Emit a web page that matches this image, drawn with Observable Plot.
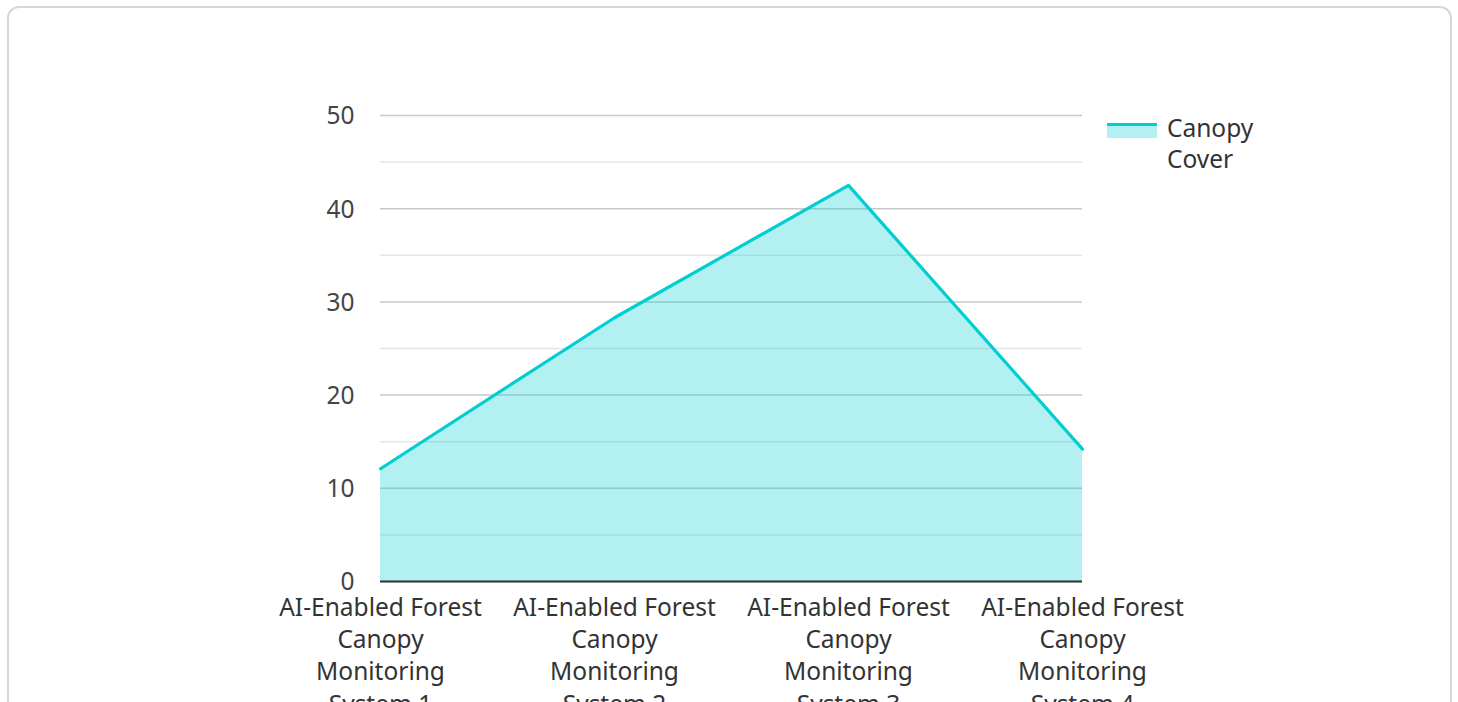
<!DOCTYPE html>
<html>
<head>
<meta charset="utf-8">
<script src="https://cdn.jsdelivr.net/npm/d3@7"></script>
<script src="https://cdn.jsdelivr.net/npm/@observablehq/plot@0.6"></script>
<style>
  html, body { margin: 0; padding: 0; background: #fff; overflow: hidden; }
  body { width: 1458px; height: 702px; position: relative; font-family: "Noto Sans", sans-serif; }
  #card { position: absolute; left: 7px; top: 6px; width: 1445px; height: 760px; border: 2px solid #d6d6d6; border-radius: 12px; box-sizing: border-box; }
  #chart { position: absolute; left: 0; top: 0; }
  #legend { position: absolute; left: 1107px; top: 112px; display: flex; align-items: flex-start; color: #333; font-size: 24.5px; line-height: 31px; }
  #legend .sw { width: 50px; height: 15px; margin-top: 11px; margin-right: 10px; background: rgba(0,206,209,0.3); border-top: 3px solid #00CED1; box-sizing: border-box; }
  #legend .lbl { width: 100px; }
</style>
</head>
<body>
<div id="card"></div>
<div id="chart"></div>
<div id="legend"><div class="sw"></div><div class="lbl" id="legendLabel"></div></div>
<script>
const categories = [
  "AI-Enabled Forest Canopy Monitoring System 1",
  "AI-Enabled Forest Canopy Monitoring System 2",
  "AI-Enabled Forest Canopy Monitoring System 3",
  "AI-Enabled Forest Canopy Monitoring System 4"
];
const tickLabels = [
  "AI-Enabled Forest\nCanopy\nMonitoring\nSystem 1",
  "AI-Enabled Forest\nCanopy\nMonitoring\nSystem 2",
  "AI-Enabled Forest\nCanopy\nMonitoring\nSystem 3",
  "AI-Enabled Forest\nCanopy\nMonitoring\nSystem 4"
];
const seriesName = "Canopy Cover";
const canopyCover = [12.1, 28.3, 42.5, 14.2];
const majorTicks = [0, 10, 20, 30, 40, 50];
const minorTicks = [5, 15, 25, 35, 45];

const data = categories.map((c, i) => ({category: c, value: canopyCover[i]}));
const labelOf = new Map(categories.map((c, i) => [c, tickLabels[i]]));

document.getElementById("legendLabel").textContent = seriesName;

const color = "#00CED1";
const chart = Plot.plot({
  width: 1458,
  height: 702,
  marginLeft: 380,
  marginRight: 376,
  marginTop: 115,
  marginBottom: 121,
  style: {fontFamily: "Noto Sans, sans-serif", fontSize: "24.5px", color: "#333", background: "transparent"},
  x: {type: "point", domain: categories, padding: 0, label: null},
  y: {domain: [0, 50], label: null},
  marks: [
    Plot.gridY(minorTicks, {stroke: "#e6e6e6", strokeOpacity: 1, strokeWidth: 1.5}),
    Plot.gridY(majorTicks, {stroke: "#c8c8c8", strokeOpacity: 1, strokeWidth: 1.5}),
    Plot.areaY(data, {x: "category", y: "value", fill: color, fillOpacity: 0.3}),
    Plot.lineY(data, {x: "category", y: "value", stroke: color, strokeWidth: 3.2}),
    Plot.ruleY([0], {stroke: "#333", strokeWidth: 2}),
    Plot.axisY(majorTicks, {tickSize: 0, tickPadding: 26, fontSize: 24.5, fill: "#444", dy: 1}),
    Plot.axisX({tickSize: 0, tickPadding: 12, fontSize: 24.5, fill: "#333", lineHeight: 1.31, tickFormat: d => labelOf.get(d), lineWidth: 100})
  ]
});
document.getElementById("chart").appendChild(chart);
</script>
</body>
</html>
